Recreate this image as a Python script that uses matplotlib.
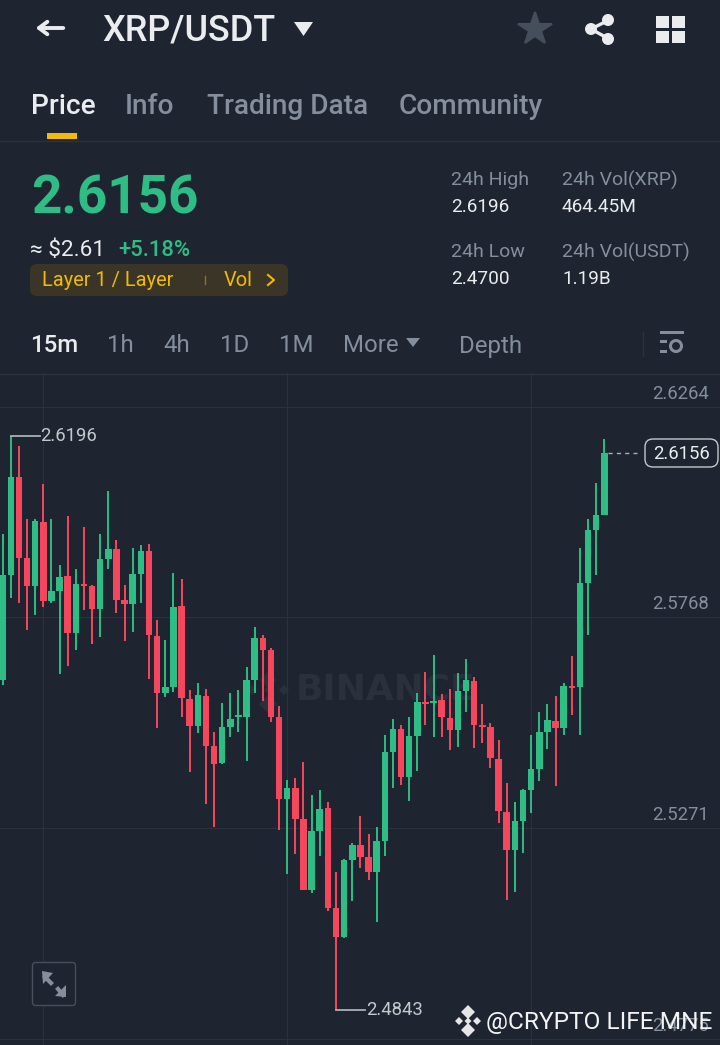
import matplotlib
matplotlib.use("Agg")
import matplotlib.pyplot as plt
from matplotlib.patches import FancyBboxPatch, Rectangle, Circle, Polygon

plt.rcParams['font.family'] = ['Roboto', 'DejaVu Sans']

BG = "#1e2530"
GRID = "#2b323d"
GREEN = "#2ebd85"
RED = "#f6465d"
GREY = "#848e9c"
WHITE = "#eaecef"
YELLOW = "#f0b90b"

# 15m candles
opens = [2.5620, 2.5868, 2.6099, 2.5908, 2.5842, 2.5993, 2.5807, 2.5830, 2.5866, 2.5731,
         2.5847, 2.5842, 2.5788, 2.5905, 2.5929, 2.5809, 2.5800, 2.5870, 2.5924, 2.5724,
         2.5590, 2.5604, 2.5795, 2.5576, 2.5512, 2.5583, 2.5465, 2.5425, 2.5510, 2.5533,
         2.5533, 2.5620, 2.5719, 2.5691, 2.5533, 2.5340, 2.5366, 2.5293, 2.5125, 2.5264,
         2.5319, 2.5083, 2.5014, 2.5196, 2.5231, 2.5203, 2.5168, 2.5241, 2.5451, 2.5505,
         2.5392, 2.5488, 2.5569, 2.5566, 2.5573, 2.5531, 2.5502, 2.5594, 2.5618, 2.5512,
         2.5510, 2.5434, 2.5309, 2.5220, 2.5288, 2.5361, 2.5411, 2.5498, 2.5524, 2.5507,
         2.5604, 2.5604, 2.5849, 2.5974, 2.6009]
highs = [2.5965, 2.6196, 2.6172, 2.6000, 2.6000, 2.6083, 2.6000, 2.5891, 2.6007, 2.5882,
         2.5981, 2.5844, 2.5965, 2.6066, 2.5950, 2.5844, 2.5931, 2.5938, 2.5941, 2.5762,
         2.5715, 2.5873, 2.5858, 2.5597, 2.5613, 2.5599, 2.5498, 2.5566, 2.5590, 2.5597,
         2.5651, 2.5745, 2.5726, 2.5696, 2.5559, 2.5385, 2.5389, 2.5427, 2.5349, 2.5361,
         2.5333, 2.5168, 2.5198, 2.5236, 2.5300, 2.5257, 2.5274, 2.5491, 2.5528, 2.5514,
         2.5533, 2.5590, 2.5639, 2.5680, 2.5587, 2.5599, 2.5637, 2.5670, 2.5627, 2.5564,
         2.5519, 2.5479, 2.5378, 2.5333, 2.5363, 2.5491, 2.5545, 2.5564, 2.5583, 2.5613,
         2.5677, 2.5931, 2.6000, 2.6085, 2.6189]
lows = [2.5608, 2.5814, 2.5802, 2.5738, 2.5773, 2.5792, 2.5802, 2.5635, 2.5654, 2.5691,
        2.5785, 2.5706, 2.5721, 2.5882, 2.5778, 2.5712, 2.5733, 2.5802, 2.5623, 2.5507,
        2.5580, 2.5592, 2.5533, 2.5403, 2.5495, 2.5328, 2.5274, 2.5422, 2.5486, 2.5498,
        2.5429, 2.5590, 2.5571, 2.5521, 2.5267, 2.5163, 2.5210, 2.5125, 2.5118, 2.5205,
        2.5076, 2.4843, 2.5012, 2.5099, 2.5177, 2.5149, 2.5050, 2.5205, 2.5366, 2.5373,
        2.5335, 2.5406, 2.5514, 2.5486, 2.5486, 2.5455, 2.5462, 2.5545, 2.5460, 2.5472,
        2.5413, 2.5283, 2.5102, 2.5121, 2.5212, 2.5307, 2.5382, 2.5458, 2.5370, 2.5491,
        2.5538, 2.5491, 2.5726, 2.5868, 2.6009]
closes = [2.5868, 2.6100, 2.5908, 2.5842, 2.5995, 2.5807, 2.5830, 2.5863, 2.5731, 2.5847,
          2.5842, 2.5788, 2.5905, 2.5929, 2.5809, 2.5800, 2.5870, 2.5924, 2.5726, 2.5590,
          2.5604, 2.5792, 2.5578, 2.5512, 2.5585, 2.5465, 2.5422, 2.5510, 2.5528, 2.5536,
          2.5620, 2.5719, 2.5691, 2.5533, 2.5340, 2.5366, 2.5293, 2.5125, 2.5264, 2.5316,
          2.5083, 2.5014, 2.5196, 2.5231, 2.5203, 2.5168, 2.5241, 2.5451, 2.5505, 2.5392,
          2.5488, 2.5569, 2.5564, 2.5571, 2.5533, 2.5502, 2.5594, 2.5620, 2.5514, 2.5510,
          2.5436, 2.5312, 2.5220, 2.5288, 2.5361, 2.5411, 2.5498, 2.5526, 2.5507, 2.5606,
          2.5601, 2.5849, 2.5974, 2.6009, 2.6156]

price_ticks = [2.6264, 2.5768, 2.5271, 2.4775]
price_labels = ["2.6264", "2.5768", "2.5271", "2.4775"]
time_ticks = [5, 35, 65]

period_names = ["15m", "1h", "4h", "1D", "1M", "More", "Depth"]
period_x = [30, 107, 163, 220, 279, 343, 459]
tab_names = ["Price", "Info", "Trading Data", "Community"]
tab_x = [31, 125, 207, 399]


def px(size):
    return size * 0.72


def diamond(axis, cx, cy, r, col, z=2):
    axis.add_patch(Polygon([[cx - r, cy], [cx, cy - r], [cx + r, cy], [cx, cy + r]],
                           facecolor=col, edgecolor="none", zorder=z))


fig = plt.figure(figsize=(7.2, 10.45), dpi=100, facecolor=BG)

# faint logo sits under the candles and the grid
back = fig.add_axes([0, 0, 1, 1], facecolor=BG, zorder=0)
back.set_xlim(0, 720)
back.set_ylim(1045, 0)
back.axis("off")
for cx, cy, r in [(268, 680, 8), (252, 690, 5), (284, 690, 5), (268, 690, 4), (268, 704, 9)]:
    diamond(back, cx, cy, r, "#2b313c")

# chart area, from y=373 to the bottom of the picture
ax = fig.add_axes([0, 0, 1, 672 / 1045], facecolor="none", zorder=1)
ax.set_xlim(-0.328, 88.23)
ax.set_ylim(2.4760, 2.6344)
ax.set_xticks(time_ticks)
ax.set_yticks(price_ticks)
ax.grid(True, color=GRID, linewidth=0.8)
ax.set_axisbelow(True)
ax.tick_params(length=0, labelbottom=False, labelleft=False)
for s in ax.spines.values():
    s.set_visible(False)

ax.text(36.1, 2.5597, "BINANCE", color="#2b313c", fontsize=px(36), fontweight="bold",
        family="DejaVu Sans", va="center", ha="left", zorder=1)

for i in range(len(opens)):
    up = closes[i] >= opens[i]
    col = GREEN if up else RED
    ax.vlines(i, lows[i], highs[i], color=col, linewidth=1.4, zorder=3)
    bottom = min(opens[i], closes[i])
    height = max(abs(closes[i] - opens[i]), 0.0005)
    ax.bar(i, height, bottom=bottom, width=0.8, color=col, linewidth=0, zorder=3)

for p, lab in zip(price_ticks, price_labels):
    ax.annotate(lab, (1, p), xycoords=("axes fraction", "data"), xytext=(-11, 4),
                textcoords="offset pixels", color=GREY, fontsize=px(18.5), ha="right", va="bottom")

# high, low and last price markers
hi = max(highs)
hi_i = highs.index(hi)
lo = min(lows)
lo_i = lows.index(lo)
ax.plot([hi_i, hi_i + 3.6], [hi, hi], color="#aab0b8", linewidth=1.3, zorder=4)
ax.text(hi_i + 3.65, hi, "%.4f" % hi, color="#c4c8ce", fontsize=px(18.5), va="center", zorder=5)
ax.plot([lo_i, lo_i + 3.6], [lo, lo], color="#aab0b8", linewidth=1.3, zorder=4)
ax.text(lo_i + 3.65, lo, "%.4f" % lo, color="#c4c8ce", fontsize=px(18.5), va="center", zorder=5)
ax.plot([len(opens) - 0.5, 78], [closes[-1], closes[-1]], color="#aab0b8", linewidth=1,
        linestyle=(0, (3, 3)), zorder=4)

# everything above and on top of the chart is placed in picture pixels
ui = fig.add_axes([0, 0, 1, 1], facecolor="none", zorder=2)
ui.set_xlim(0, 720)
ui.set_ylim(1045, 0)
ui.axis("off")

ui.add_patch(FancyBboxPatch((645, 439), 73, 28, boxstyle="round,pad=0,rounding_size=8",
                            facecolor=BG, edgecolor="#c4c8ce", linewidth=1))
ui.text(682, 454, "%.4f" % closes[-1], color=WHITE, fontsize=px(18.5), ha="center", va="center")

# header
ui.annotate("", xy=(33, 28), xytext=(66, 28),
            arrowprops=dict(arrowstyle="->,head_width=0.45,head_length=0.6", color=WHITE, lw=2.8))
ui.text(102, 31, "XRP/USDT", color=WHITE, fontsize=px(36), fontweight="medium", va="center")
ui.add_patch(Polygon([[294, 22], [313, 22], [303.5, 36]], facecolor=WHITE, edgecolor="none"))
ui.plot([535], [29], marker="*", markersize=25, color="#454e5b", markeredgecolor="#454e5b",
        markeredgewidth=1.5)
ui.plot([609, 591, 609], [20, 29, 39], color=WHITE, linewidth=2.4)
for cx, cy in [(608, 20), (591, 29), (608, 39)]:
    ui.add_patch(Circle((cx, cy), 6, facecolor=WHITE, edgecolor="none"))
for gx in [656, 672]:
    for gy in [16, 31]:
        ui.add_patch(Rectangle((gx, gy), 12.5, 12, facecolor=WHITE, edgecolor="none"))

# tabs
for name, x in zip(tab_names, tab_x):
    col = WHITE if name == "Price" else GREY
    ui.text(x, 106, name, color=col, fontsize=px(28), fontweight="medium", va="center")
ui.add_patch(Rectangle((47, 133), 30, 6, facecolor=YELLOW, edgecolor="none"))
ui.plot([0, 720], [140.5, 140.5], color=GRID, linewidth=1)

# price block
ui.text(31, 199, "2.6156", color=GREEN, fontsize=px(53), fontweight="bold", va="center")
ui.text(30, 250, "≈ $2.61", color=WHITE, fontsize=px(22.5), va="center")
ui.text(118, 250, "+5.18%", color=GREEN, fontsize=px(22), fontweight="medium", va="center")
ui.add_patch(FancyBboxPatch((30, 264), 258, 32, boxstyle="round,pad=0,rounding_size=7",
                            facecolor="#3a3526", edgecolor="none"))
ui.text(42, 281, "Layer 1 / Layer", color=YELLOW, fontsize=px(20), va="center")
ui.plot([204.5, 204.5], [276, 284], color="#8a7430", linewidth=1)
ui.text(224, 281, "Vol", color=YELLOW, fontsize=px(20), va="center")
ui.plot([268, 274, 268], [275, 280, 285], color=YELLOW, linewidth=1.5)

# 24h stats
stat_x = [451, 451, 562, 562]
stat_y = [180, 252, 180, 252]
stat_names = ["24h High", "24h Low", "24h Vol(XRP)", "24h Vol(USDT)"]
stat_vals = ["2.6196", "2.4700", "464.45M", "1.19B"]
for x, y, n, v in zip(stat_x, stat_y, stat_names, stat_vals):
    ui.text(x, y, n, color=GREY, fontsize=px(19.5), va="center")
    ui.text(x, y + 27, v, color=WHITE, fontsize=px(19), va="center")

# period row
for name, x in zip(period_names, period_x):
    col = WHITE if name == "15m" else GREY
    wt = "medium" if name == "15m" else "normal"
    ui.text(x, 346, name, color=col, fontsize=px(24), fontweight=wt, va="center")
ui.add_patch(Polygon([[406, 338], [420, 338], [413, 347]], facecolor=GREY, edgecolor="none"))
ui.plot([642.5, 642.5], [332, 356], color=GRID, linewidth=1)
ui.add_patch(Rectangle((660, 331), 24, 3, facecolor=GREY, edgecolor="none"))
ui.add_patch(Rectangle((660, 340), 7, 3, facecolor=GREY, edgecolor="none"))
ui.add_patch(Rectangle((660, 350), 7, 3, facecolor=GREY, edgecolor="none"))
ui.add_patch(Circle((676, 346), 5.5, facecolor="none", edgecolor=GREY, linewidth=2.2))
ui.plot([0, 720], [373.5, 373.5], color=GRID, linewidth=1)

# expand button
ui.add_patch(FancyBboxPatch((32.5, 962.5), 43, 43, boxstyle="round,pad=0,rounding_size=3",
                            facecolor=BG, edgecolor="#454e5b", linewidth=1))
ui.plot([45, 51], [977, 983], color=GREY, linewidth=3)
ui.plot([58, 63], [989, 995], color=GREY, linewidth=3)
ui.add_patch(Polygon([[42, 971], [53, 973], [43, 984]], facecolor=GREY, edgecolor="none"))
ui.add_patch(Polygon([[66, 997], [55, 996], [66, 985]], facecolor=GREY, edgecolor="none"))

# logo in front of the footer text
for cx, cy, r in [(468, 1012, 7), (459, 1021, 4), (477, 1021, 4), (468, 1021, 3.5), (468, 1030, 7)]:
    diamond(ui, cx, cy, r, "#e6e6e6")
ui.text(486, 1023, "@CRYPTO LIFE MNE", color="#f4f4f4", fontsize=px(24.5), va="center")

fig.savefig("out.png", dpi=100, facecolor=BG)
